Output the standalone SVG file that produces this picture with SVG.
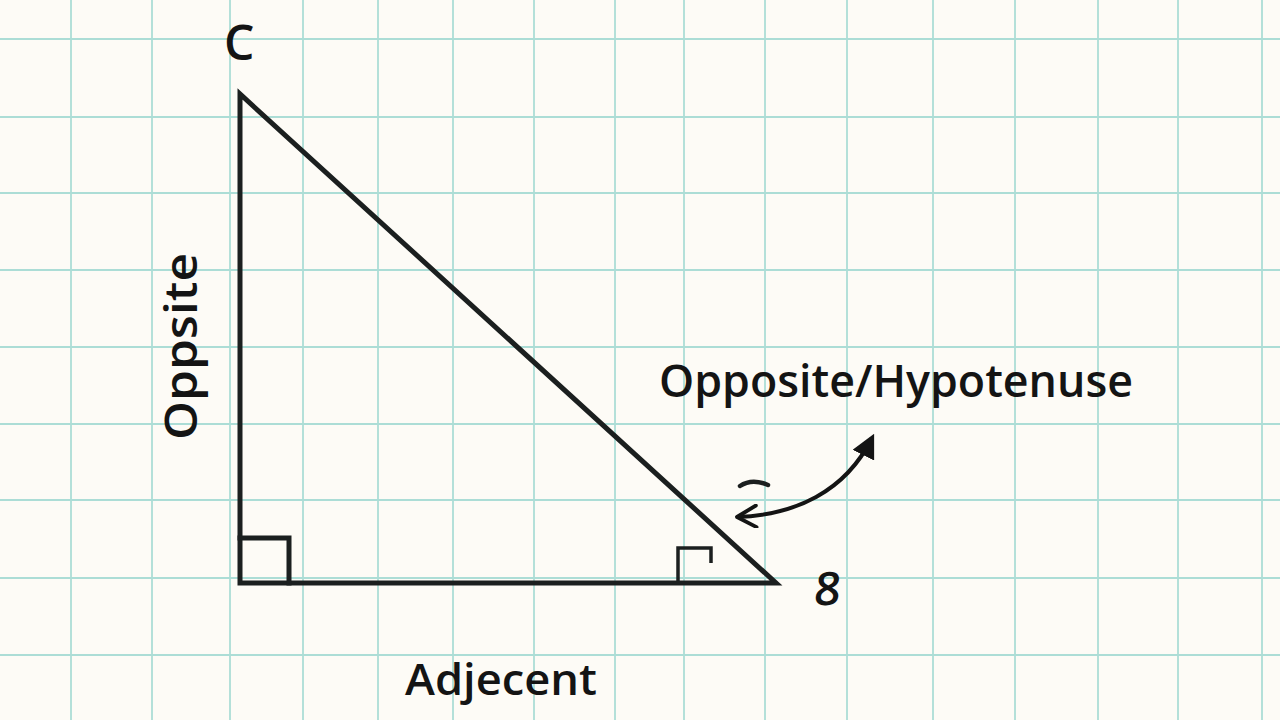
<svg xmlns="http://www.w3.org/2000/svg" width="1280" height="720" viewBox="0 0 1280 720">
<defs>
<style>
.grid line{stroke:#acddd6;stroke-width:1.8}
.shape{fill:none;stroke:#1b1f1f;stroke-width:5;stroke-linejoin:miter;stroke-linecap:square}
.thin{fill:none;stroke:#1b1f1f;stroke-width:3.5}
.lbl{font-family:"Open Sans","Liberation Sans",sans-serif;font-weight:600;fill:#141414}
</style>
<marker id="head" viewBox="0 0 10 10" refX="8" refY="5" markerWidth="6" markerHeight="6" markerUnits="strokeWidth" orient="auto">
<path d="M0,0 L10,5 L0,10 Z" fill="#141414"/>
</marker>
<marker id="chev" viewBox="0 0 10 10" refX="1" refY="5" markerWidth="6" markerHeight="6" markerUnits="strokeWidth" orient="auto">
<path d="M9,0.5 L1,5 L9,9.5" fill="none" stroke="#141414" stroke-width="1.6" stroke-linecap="round" stroke-linejoin="round"/>
</marker>
</defs>
<rect width="1280" height="720" fill="#fdfbf6"/>
<g class="grid" id="grid">
<line x1="71" y1="0" x2="71" y2="720"/>
<line x1="152" y1="0" x2="152" y2="720"/>
<line x1="230" y1="0" x2="230" y2="720"/>
<line x1="303" y1="0" x2="303" y2="720"/>
<line x1="378" y1="0" x2="378" y2="720"/>
<line x1="453" y1="0" x2="453" y2="720"/>
<line x1="534" y1="0" x2="534" y2="720"/>
<line x1="615" y1="0" x2="615" y2="720"/>
<line x1="684" y1="0" x2="684" y2="720"/>
<line x1="765" y1="0" x2="765" y2="720"/>
<line x1="847" y1="0" x2="847" y2="720"/>
<line x1="933" y1="0" x2="933" y2="720"/>
<line x1="1015" y1="0" x2="1015" y2="720"/>
<line x1="1098" y1="0" x2="1098" y2="720"/>
<line x1="1178" y1="0" x2="1178" y2="720"/>
<line x1="1262" y1="0" x2="1262" y2="720"/>
<line x1="0" y1="39" x2="1280" y2="39"/>
<line x1="0" y1="117" x2="1280" y2="117"/>
<line x1="0" y1="193" x2="1280" y2="193"/>
<line x1="0" y1="270" x2="1280" y2="270"/>
<line x1="0" y1="347" x2="1280" y2="347"/>
<line x1="0" y1="424" x2="1280" y2="424"/>
<line x1="0" y1="500" x2="1280" y2="500"/>
<line x1="0" y1="578" x2="1280" y2="578"/>
<line x1="0" y1="655" x2="1280" y2="655"/>
</g>
<g id="triangle">
<path class="shape" d="M240,94 L240,583 L776,583 Z"/>
<path class="shape" d="M240,538 L289,538 L289,583"/>
<path class="thin" d="M678,581 L678,548 L711,548 L711,563"/>
<path d="M740,486 Q752,478 768,485" fill="none" stroke="#1b1f1f" stroke-width="4.5" stroke-linecap="round"/>
</g>
<g id="labels">
<text class="lbl" x="224" y="60" font-size="48">C</text>
<text class="lbl" transform="translate(813,605) skewX(-6)" x="0" y="0" font-size="46">8</text>
<text class="lbl" x="405" y="695" font-size="44" textLength="192" lengthAdjust="spacingAndGlyphs">Adjecent</text>
<text class="lbl" transform="translate(197,440) rotate(-90)" x="0" y="0" font-size="46" font-weight="500" textLength="187" lengthAdjust="spacingAndGlyphs">Oppsite</text>
<text class="lbl" x="659" y="397" font-size="46" textLength="474" lengthAdjust="spacingAndGlyphs">Opposite/Hypotenuse</text>
</g>
<g id="connectors">
<path d="M737,517 C795,515 845,492 872,438" fill="none" stroke="#141414" stroke-width="4" marker-start="url(#chev)" marker-end="url(#head)"/>
</g>
</svg>
